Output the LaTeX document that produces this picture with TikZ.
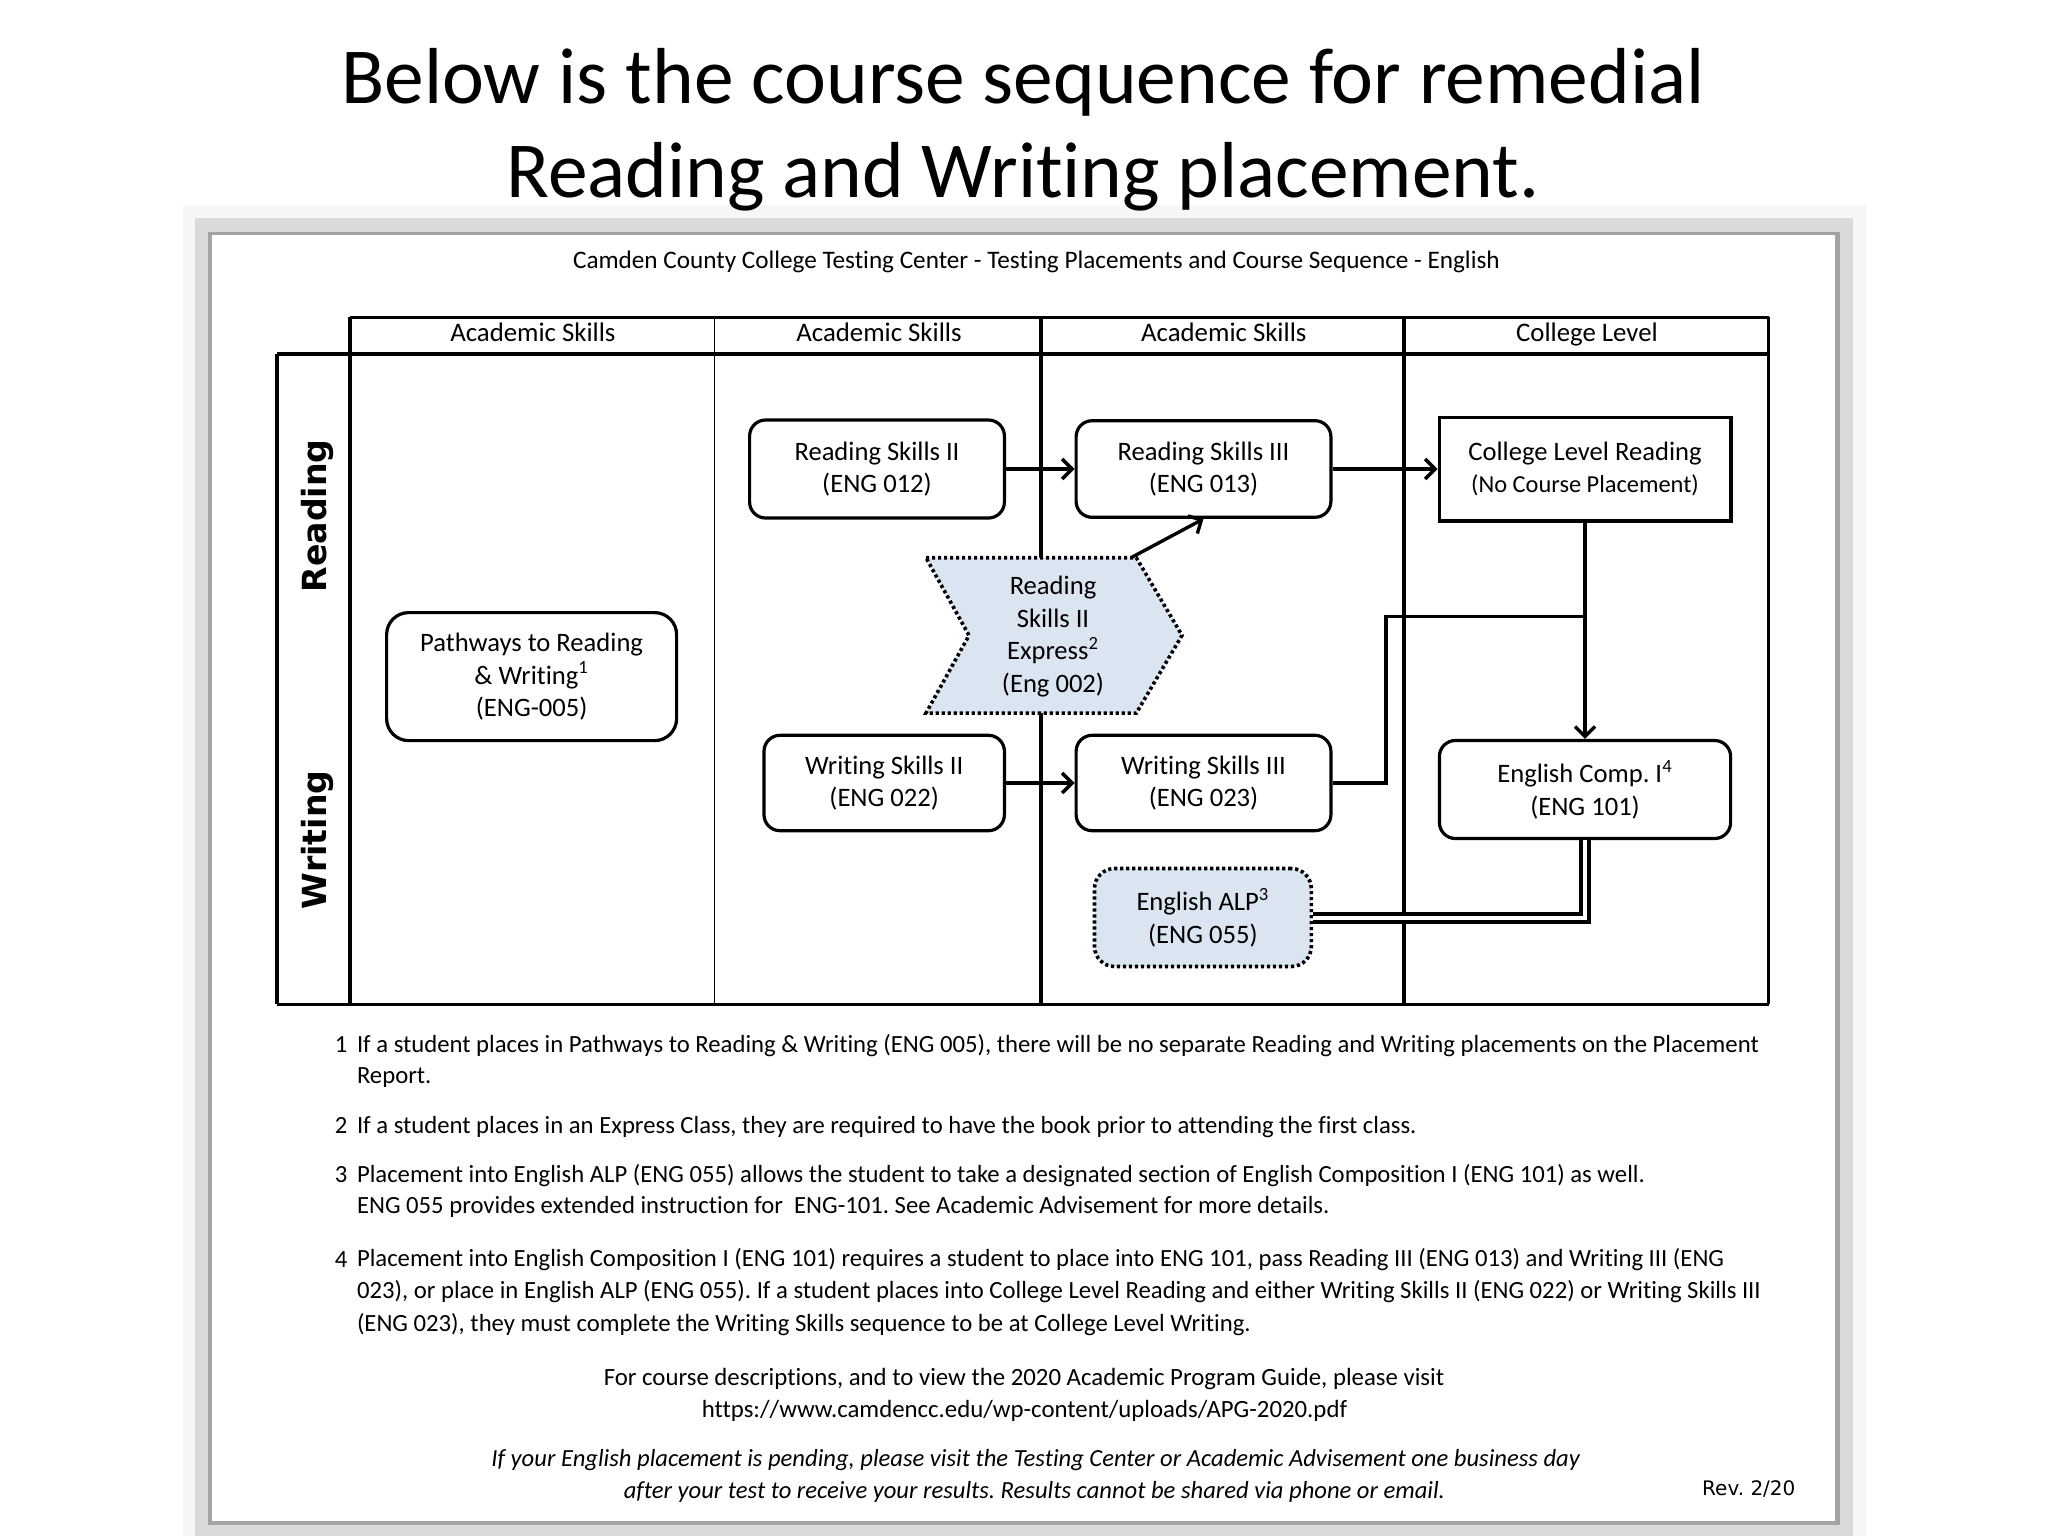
\documentclass[tikz,border=0pt]{standalone}
\usepackage{fontspec}
\setmainfont{Carlito}[Ligatures=NoCommon]
\newfontfamily\djv{DejaVu Sans}
\usetikzlibrary{arrows.meta}
\frenchspacing
\definecolor{boxblue}{HTML}{DBE5F1}
\definecolor{framedark}{HTML}{A3A3A3}
\definecolor{frameshade}{HTML}{DADADA}
\definecolor{frameglow}{HTML}{F6F6F6}
\begin{document}
\frenchspacing
\begin{tikzpicture}[x=0.5pt,y=-0.5pt,
 every node/.style={inner sep=0pt},
 course/.style={draw,line width=1.6pt,rounded corners=8pt,align=center,font=\fontsize{13.3}{16.3}\selectfont},
 altcourse/.style={course,fill=boxblue,dash pattern=on 1.6pt off 1.4pt,line width=1.8pt,rounded corners=10pt},
 conn/.style={line width=1.7pt,-{Straight Barb[length=5pt,width=10pt]}},
 plainconn/.style={line width=1.7pt},
 dblconn/.style={line width=2pt,double=white,double distance=2pt},
 lanerule/.style={line width=1.8pt},
 thinrule/.style={line width=0.9pt},
 colhead/.style={font=\fontsize{13.4}{16}\selectfont,text height=9pt,text depth=3pt},
 lanelabel/.style={rotate=90,font=\djv\bfseries\fontsize{16.6}{20}\selectfont},
 fn/.style={anchor=west,font=\fontsize{12.35}{14}\selectfont,text height=8.5pt,text depth=2.7pt},
 ctr/.style={font=\fontsize{12.4}{14}\selectfont,text height=8.5pt,text depth=2.7pt},
 ital/.style={ctr,font=\itshape\fontsize{12.3}{14}\selectfont},
 titleline/.style={font=\fontsize{39.7}{47}\selectfont,text height=28pt,text depth=2.6pt}
]
\useasboundingbox (0,0) rectangle (2048,1536);
\fill[white] (0,0) rectangle (2048,1536);
% frame
\fill[frameglow] (183,205) rectangle (1866,1536);
\fill[frameshade] (195,218) rectangle (1853,1536);
\fill[framedark] (208,232) rectangle (1840,1525);
\fill[white] (212,235) rectangle (1835,1521);
% title
\node[titleline] (T1) at (1023,78.4) {Below is the course sequence for remedial};
\node[titleline] (T2) at (1023,172.4) {Reading and Writing placement.};
% document header
\node[ctr,font=\fontsize{12.6}{14}\selectfont] (H) at (1036.4,262.5) {Camden County College Testing Center - Testing Placements and Course Sequence - English};
% table
\draw[lanerule] (350,317.4) -- (1768.5,317.4);
\draw[lanerule] (277,354) -- (1768.5,354);
\draw[lanerule] (277,1004.4) -- (1768.5,1004.4);
\draw[lanerule] (277,354) -- (277,1004.4);
\draw[lanerule] (350,317.4) -- (350,1004.4);
\draw[lanerule] (1768.5,317.4) -- (1768.5,1004.4);
\draw[thinrule] (714.4,317.4) -- (714.4,1004.4);
\draw[lanerule] (1041,317.4) -- (1041,1004.4);
\draw[lanerule] (1404,317.4) -- (1404,1004.4);
\node[colhead] (C1) at (532.9,335.7) {Academic Skills};
\node[colhead] (C2) at (879,335.7) {Academic Skills};
\node[colhead] (C3) at (1223.8,335.7) {Academic Skills};
\node[colhead] (C4) at (1586.9,335.7) {College Level};
\node[lanelabel] (LR) at (317.4,515.9) {Reading};
\node[lanelabel] (LW) at (317.4,839.8) {Writing};
% courses
\node[course,minimum width=127.4pt,minimum height=49pt] (RS2) at (877,469) {Reading Skills II\\(ENG 012)};
\node[course,minimum width=127.4pt,minimum height=48.3pt] (RS3) at (1203.5,469) {Reading Skills III\\(ENG 013)};
\node[course,rounded corners=0pt,line width=1.9pt,minimum width=145.6pt,minimum height=51.6pt] (CLR) at (1585,469) {College Level Reading\\{\fontsize{12.2}{14}\selectfont (No Course Placement)}};
\node[course,rounded corners=11pt,minimum width=145pt,minimum height=64pt] (PATH) at (531.6,676.6) {Pathways to Reading\\\& Writing\textsuperscript{1}\\(ENG-005)};
\draw[fill=boxblue,dash pattern=on 1.6pt off 1.4pt,line width=1.8pt] (926,557.7) -- (1136.3,557.7) -- (1182,635.4) -- (1136.3,713.1) -- (926,713.1) -- (969,635.4) -- cycle;
\node[align=center,font=\fontsize{13.3}{16.3}\selectfont] (EXP) at (1053,636.7) {Reading\\Skills II\\Express\textsuperscript{2}\\(Eng 002)};
\coordinate (EXPtop) at (1131,557.7);
\node[course,minimum width=120.2pt,minimum height=47.7pt] (WS2) at (884.2,783) {Writing Skills II\\(ENG 022)};
\node[course,minimum width=127.4pt,minimum height=47.7pt] (WS3) at (1203.5,783) {Writing Skills III\\(ENG 023)};
\node[course,minimum width=145.6pt,minimum height=49pt] (ECI) at (1585,789.5) {English Comp. I\textsuperscript{4}\\(ENG 101)};
\node[altcourse,minimum width=108.4pt,minimum height=49pt] (ALP) at (1202.9,917.5) {English ALP\textsuperscript{3}\\(ENG 055)};
% connectors
\coordinate (J) at (1585,616.5);
\draw[conn] (RS2) -- (RS3);
\draw[conn] (RS3) -- (CLR);
\draw[conn] (EXPtop) -- (RS3.south);
\draw[conn] (CLR) -- (ECI);
\draw[plainconn] (WS3.east) -- ++(53.6,0) |- (J);
\draw[conn] (WS2) -- (WS3);
\draw[dblconn] (ALP.east) -| (ECI.south);
% footnotes
\node[fn] (N1) at (334.4,1046.2) {1};
\node[fn] (F1a) at (356.6,1046.2) {If a student places in Pathways to Reading \& Writing (ENG 005), there will be no separate Reading and Writing placements on the Placement};
\node[fn] (F1b) at (356.6,1077.5) {Report.};
\node[fn] (N2) at (334.4,1127.2) {2};
\node[fn] (F2) at (356.6,1127.2) {If a student places in an Express Class, they are required to have the book prior to attending the first class.};
\node[fn] (N3) at (334.4,1176.8) {3};
\node[fn] (F3a) at (356.6,1176.8) {Placement into English ALP (ENG 055) allows the student to take a designated section of English Composition I (ENG 101) as well.};
\node[fn] (F3b) at (356.6,1208.1) {ENG 055 provides extended instruction for\ \ ENG-101. See Academic Advisement for more details.};
\node[fn] (N4) at (334.4,1262) {4};
\node[fn] (F4a) at (356.6,1260.4) {Placement into English Composition I (ENG 101) requires a student to place into ENG 101, pass Reading III (ENG 013) and Writing III (ENG};
\node[fn] (F4b) at (356.6,1293) {023), or place in English ALP (ENG 055). If a student places into College Level Reading and either Writing Skills II (ENG 022) or Writing Skills III};
\node[fn] (F4c) at (356.6,1325.7) {(ENG 023), they must complete the Writing Skills sequence to be at College Level Writing.};
\node[ctr] (G1) at (1024,1379.2) {For course descriptions, and to view the 2020 Academic Program Guide, please visit};
\node[ctr] (G2) at (1024.5,1411.9) {https://www.camdencc.edu/wp-content/uploads/APG-2020.pdf};
\node[ital] (I1) at (1035.7,1460.2) {If your English placement is pending, please visit the Testing Center or Academic Advisement one business day};
\node[ital] (I2) at (1034.4,1492.9) {after your test to receive your results. Results cannot be shared via phone or email.};
\node[anchor=west,font=\djv\fontsize{10}{12}\selectfont,text height=7.3pt,text depth=2pt] (REV) at (1701.8,1490.2) {Rev.\ 2/20};
\end{tikzpicture}
\end{document}
